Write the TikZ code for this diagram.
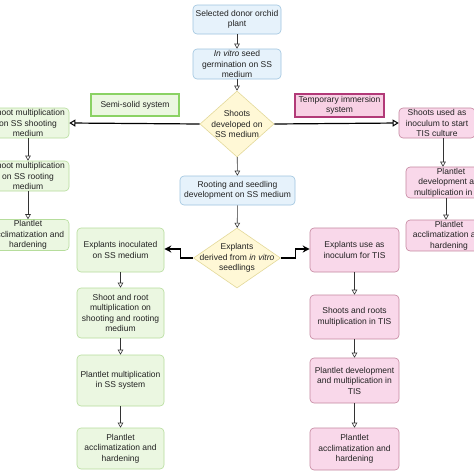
\documentclass[tikz,border=0pt]{standalone}
\usepackage{fontspec}
\setmainfont{Liberation Sans}
\usetikzlibrary{arrows.meta,shapes.geometric}
\definecolor{bfill}{HTML}{E6F2FB}
\definecolor{bdraw}{HTML}{9FC4DF}
\definecolor{gfill}{HTML}{EBF7E1}
\definecolor{gdraw}{HTML}{B6DD9C}
\definecolor{pfill}{HTML}{F9D8EA}
\definecolor{pdraw}{HTML}{C5869F}
\definecolor{yfill}{HTML}{FFF8D6}
\definecolor{ydraw}{HTML}{E3D99A}
\definecolor{ssdraw}{HTML}{8AD264}
\definecolor{tisdraw}{HTML}{B23A78}
\definecolor{tisfill}{HTML}{F8D0E4}
\definecolor{txt}{HTML}{222222}
\begin{document}
\begin{tikzpicture}[x=1pt,y=-1pt,
  box/.style={draw, rounded corners=4pt, align=center, inner sep=1pt,
    font=\fontsize{8.5}{10.5}\selectfont, text=txt, line width=0.6pt},
  bluebox/.style={box, fill=bfill, draw=bdraw},
  greenbox/.style={box, fill=gfill, draw=gdraw},
  pinkbox/.style={box, fill=pfill, draw=pdraw},
  dia/.style={diamond, draw=ydraw, fill=yfill, line width=0.6pt, inner sep=0pt},
  diatext/.style={align=center, font=\fontsize{8.5}{10.5}\selectfont, text=txt, inner sep=0pt},
  sslabel/.style={draw=ssdraw, fill=gfill, line width=1.1pt, align=center,
    font=\fontsize{8.5}{10.5}\selectfont, text=txt, inner sep=1pt},
  tislabel/.style={draw=tisdraw, fill=tisfill, line width=1.1pt, align=center,
    font=\fontsize{8.5}{10.5}\selectfont, text=txt, inner sep=1pt},
  arr/.style={draw=black!80, line width=0.6pt, -{Triangle[open, length=5pt, width=5.5pt]}},
  thickarr/.style={draw=black, line width=1.2pt, -{Triangle[open, length=6pt, width=7pt, line width=1pt]}},
  elbow/.style={draw=black, line width=1.3pt, -{Stealth[length=7pt, width=7pt]}}
]
\useasboundingbox (0,0) rectangle (474,474);
\clip (0,0) rectangle (474,474);
\fill[white] (0,0) rectangle (474,474);

% central column
\node[bluebox, minimum width=88pt, minimum height=29pt] (n1) at (237,19.5) {Selected donor orchid\\plant};
\node[bluebox, minimum width=88pt, minimum height=30pt] (n2) at (237,64) {\textit{In vitro} seed\\germination on SS\\medium};
\node[dia, minimum width=74pt, minimum height=66pt] (d1) at (237,124) {};
\node[diatext] (d1t) at (237,124) {Shoots\\developed on\\SS medium};
\node[bluebox, minimum width=115pt, minimum height=29pt] (n4) at (237.5,190.5) {Rooting and seedling\\development on SS medium};
\node[dia, minimum width=87pt, minimum height=60pt] (d2) at (237,258) {};
\node[diatext] (d2t) at (237,258) {Explants\\derived from \textit{in vitro}\\seedlings};

% system labels
\node[sslabel, minimum width=88pt, minimum height=22pt] (ss) at (135,105) {Semi-solid system};
\node[tislabel, minimum width=89pt, minimum height=23pt] (tis) at (339.5,105.5) {Temporary immersion\\system};

% far-left column
\node[greenbox, minimum width=82pt, minimum height=30pt] (l1) at (28,123) {Shoot multiplication\\on SS shooting\\medium};
\node[greenbox, minimum width=82pt, minimum height=30pt] (l2) at (28,176) {Shoot multiplication\\on SS rooting\\medium};
\node[greenbox, minimum width=82pt, minimum height=30pt] (l3) at (28,235) {Plantlet\\acclimatization and\\hardening};

% middle-left column
\node[greenbox, minimum width=87pt, minimum height=44pt] (m1) at (120.5,250) {Explants inoculated\\on SS medium};
\node[greenbox, minimum width=87pt, minimum height=50pt] (m2) at (120.5,313) {Shoot and root\\multiplication on\\shooting and rooting\\medium};
\node[greenbox, minimum width=87pt, minimum height=51pt] (m3) at (120.5,380.5) {Plantlet multiplication\\in SS system};
\node[greenbox, minimum width=87pt, minimum height=41pt] (m4) at (120.5,448.5) {Plantlet\\acclimatization and\\hardening};

% middle-right column
\node[pinkbox, minimum width=89pt, minimum height=44pt] (p1) at (354.5,250) {Explants use as\\inoculum for TIS};
\node[pinkbox, minimum width=89pt, minimum height=44pt] (p2) at (354.5,317) {Shoots and roots\\multiplication in TIS};
\node[pinkbox, minimum width=89pt, minimum height=45pt] (p3) at (354.5,380.5) {Plantlet development\\and multiplication in\\TIS};
\node[pinkbox, minimum width=89pt, minimum height=42pt] (p4) at (354.5,449) {Plantlet\\acclimatization and\\hardening};

% far-right column
\node[pinkbox, minimum width=76pt, minimum height=30pt] (r1) at (437,123) {Shoots used as\\inoculum to start\\TIS culture};
\node[pinkbox, minimum width=90pt, minimum height=29pt] (r2) at (451,182.5) {Plantlet\\development and\\multiplication in TIS};
\node[pinkbox, minimum width=86pt, minimum height=29pt] (r3) at (449,235.5) {Plantlet\\acclimatization and\\hardening};

\coordinate (xr1) at (443,0);
\coordinate (xr2) at (446,0);

% connectors
\draw[arr] (n1) -- (n2);
\draw[arr] (n2) -- (d1);
\draw[arr] (d1) -- (n4);
\draw[arr] (n4) -- (d2);
\draw[thickarr] (d1.west) -- (l1.east);
\draw[thickarr] (d1.east) -- (r1.west);
\draw[arr] (l1) -- (l2);
\draw[arr] (l2) -- (l3);
\draw[arr] (r1.south -| xr1) -- (r2.north -| xr1);
\draw[arr] (r2.south -| xr2) -- (r3.north -| xr2);
\draw[elbow] (d2.west) -- ++(-13,0) -- ++(0,-9) coordinate (k1) -- (k1 -| m1.east);
\draw[elbow] (d2.east) -- ++(15,0) -- ++(0,-9) coordinate (k2) -- (k2 -| p1.west);
\draw[arr] (m1) -- (m2);
\draw[arr] (m2) -- (m3);
\draw[arr] (m3) -- (m4);
\draw[arr] (p1) -- (p2);
\draw[arr] (p2) -- (p3);
\draw[arr] (p3) -- (p4);
\end{tikzpicture}
\end{document}
